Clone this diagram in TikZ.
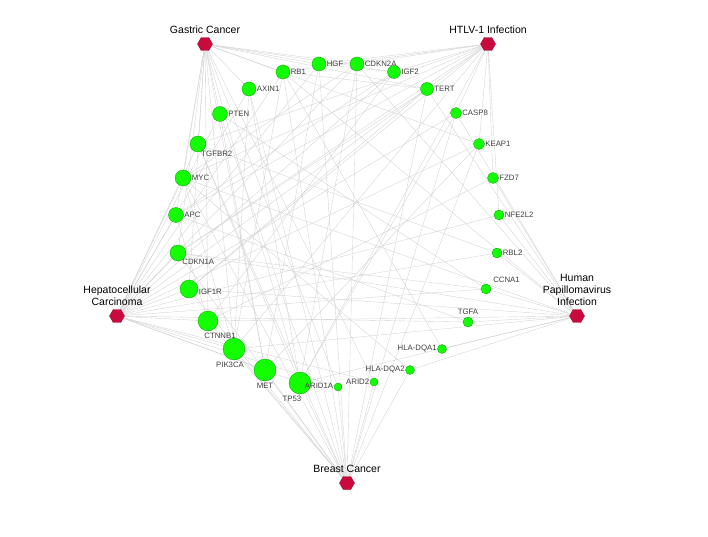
\documentclass[tikz,border=0pt]{standalone}
\usepackage{fontspec}
\setmainfont{Liberation Sans}
\usetikzlibrary{shapes.geometric,backgrounds}
\definecolor{crim}{RGB}{200,10,60}
\begin{document}
\begin{tikzpicture}[x=1pt,y=-1pt,
  dis/.style={regular polygon,regular polygon sides=6,fill=crim,draw=crim!80!black,inner sep=0pt,minimum size=15pt},
  gene/.style={circle,fill=green!90!lime,draw=green!60!black,line width=0.3pt,inner sep=0pt,minimum size=#1},
  glab/.style={font=\fontsize{7.8}{8}\selectfont,text=black!75},
  dlab/.style={font=\fontsize{10.5}{12}\selectfont,align=center},
  edge/.style={draw=black!18,line width=0.35pt}]
\useasboundingbox (0,0) rectangle (708,537);
\node[dis] (GC) at (205,44) {};
\node[dis] (HT) at (488,44) {};
\node[dis] (HCC) at (117,316) {};
\node[dis] (HPV) at (577,316) {};
\node[dis] (BC) at (347,483) {};
\node[dlab,above=0pt] (lGC) at (GC.north) {Gastric Cancer};
\node[dlab,above=0pt] (lHT) at (HT.north) {HTLV-1 Infection};
\node[dlab,above=0pt] (lHCC) at (HCC.north) {Hepatocellular\\Carcinoma};
\node[dlab,above=0pt] (lHPV) at (HPV.north) {Human\\Papillomavirus\\Infection};
\node[dlab,above=0pt] (lBC) at (BC.north) {Breast Cancer};
\foreach \n/\x/\y/\s in {RB1/283/72/14, HGF/319/64/14, CDKN2A/357/64/14, IGF2/394/72/13, AXIN1/249/89/14, TERT/427/89/13,
  PTEN/220/114/15, CASP8/456/113/11, TGFBR2/198/144/16, KEAP1/479/144/11, MYC/183/178/16, FZD7/493/178/11,
  APC/176/215/15, NFE2L2/499/215/10, CDKN1A/178/253/16, RBL2/497/253/10, IGF1R/189/289/18, CCNA1/486/289/10,
  CTNNB1/208/321/20, TGFA/468/322/10, PIK3CA/234/349/22, HLAa/442/349/9, MET/265/370/22, HLAb/410/370/9,
  TP53/300/383/22, ARID1A/338/387/8, ARID2/374/382/8}
  \node[gene=\s pt] (\n) at (\x,\y) {};
\foreach \n/\t in {RB1/RB1,HGF/HGF,CDKN2A/CDKN2A,IGF2/IGF2,AXIN1/AXIN1,TERT/TERT,PTEN/PTEN,CASP8/CASP8,KEAP1/KEAP1,
  MYC/MYC,FZD7/FZD7,APC/APC,NFE2L2/NFE2L2,RBL2/RBL2}
  \node[glab,anchor=west,inner sep=0.5pt] (l\n) at (\n.east) {\t};
\node[glab,anchor=north west,inner sep=0.5pt] (lTGFBR2) at ([xshift=-3pt,yshift=-1pt]TGFBR2.south east) {TGFBR2};
\node[glab,anchor=north west,inner sep=0.5pt] (lCDKN1A) at ([xshift=-2pt,yshift=-0pt]CDKN1A.south east) {CDKN1A};
\node[glab,anchor=west,inner sep=0.5pt] (lIGF1R) at ([yshift=-3pt]IGF1R.east) {IGF1R};
\node[glab,anchor=north,inner sep=0.5pt] (lCTNNB1) at ([xshift=12pt,yshift=-1pt]CTNNB1.south) {CTNNB1};
\node[glab,anchor=north,inner sep=0.5pt] (lPIK3CA) at ([xshift=-4pt,yshift=-1pt]PIK3CA.south) {PIK3CA};
\node[glab,anchor=north,inner sep=0.5pt] (lMET) at ([yshift=-1pt]MET.south) {MET};
\node[glab,anchor=north,inner sep=0.5pt] (lTP53) at ([xshift=-8pt,yshift=-1pt]TP53.south) {TP53};
\node[glab,anchor=east,inner sep=0.5pt] (lARID1A) at ([yshift=1pt]ARID1A.west) {ARID1A};
\node[glab,anchor=east,inner sep=0.5pt] (lARID2) at (ARID2.west) {ARID2};
\node[glab,anchor=east,inner sep=0.5pt] (lHLAb) at (HLAb.west) {HLA-DQA2};
\node[glab,anchor=east,inner sep=0.5pt] (lHLAa) at (HLAa.west) {HLA-DQA1};
\node[glab,anchor=south,inner sep=0.5pt] (lTGFA) at ([yshift=2pt]TGFA.north) {TGFA};
\node[glab,anchor=south west,inner sep=0.5pt] (lCCNA1) at ([xshift=3pt,yshift=2pt]CCNA1.north east) {CCNA1};
\begin{scope}[on background layer]
\foreach \g in {RB1,HGF,CDKN2A,AXIN1,PTEN,TGFBR2,MYC,APC,CDKN1A,IGF1R,CTNNB1,PIK3CA,MET,TP53,ARID1A,ARID2,KEAP1,TERT,IGF2}
  \draw[edge] (GC) -- (\g);
\foreach \g in {HGF,CDKN2A,IGF2,TERT,CASP8,KEAP1,FZD7,NFE2L2,RB1,MYC,TP53,CDKN1A,TGFBR2,PIK3CA,APC,IGF1R}
  \draw[edge] (HT) -- (\g);
\foreach \g in {RB1,AXIN1,PTEN,TGFBR2,MYC,APC,CDKN1A,IGF1R,CTNNB1,PIK3CA,MET,TP53,TERT,IGF2,ARID1A,ARID2,CCNA1,TGFA,RBL2,KEAP1,NFE2L2,CASP8,HGF,CDKN2A}
  \draw[edge] (HCC) -- (\g);
\foreach \g in {RB1,CDKN2A,TERT,RBL2,CCNA1,TGFA,HLAa,HLAb,TP53,CDKN1A,MYC,CTNNB1,PIK3CA,FZD7,NFE2L2,CASP8,IGF1R}
  \draw[edge] (HPV) -- (\g);
\foreach \g in {PIK3CA,TP53,MET,CTNNB1,CDKN1A,IGF1R,MYC,PTEN,TGFBR2,CDKN2A,RB1,TERT,KEAP1,ARID1A,HLAb,ARID2,HGF,CASP8,AXIN1}
  \draw[edge] (BC) -- (\g);
\foreach \a/\b in {PTEN/MET,AXIN1/TP53,RB1/HLAa,CDKN2A/MYC,IGF2/APC,TERT/CDKN1A,TERT/IGF1R,HGF/MET,RB1/PIK3CA,CDKN2A/TP53,
  IGF2/CTNNB1,CASP8/TP53,KEAP1/MET,FZD7/CTNNB1,TGFBR2/RBL2,CDKN1A/CCNA1,APC/TGFA,MYC/HLAb,PTEN/CCNA1,AXIN1/PIK3CA,TGFBR2/TP53,
  HGF/IGF2,RB1/TERT,MYC/PIK3CA,APC/CTNNB1}
  \draw[edge] (\a) -- (\b);
\end{scope}
\end{tikzpicture}
\end{document}
